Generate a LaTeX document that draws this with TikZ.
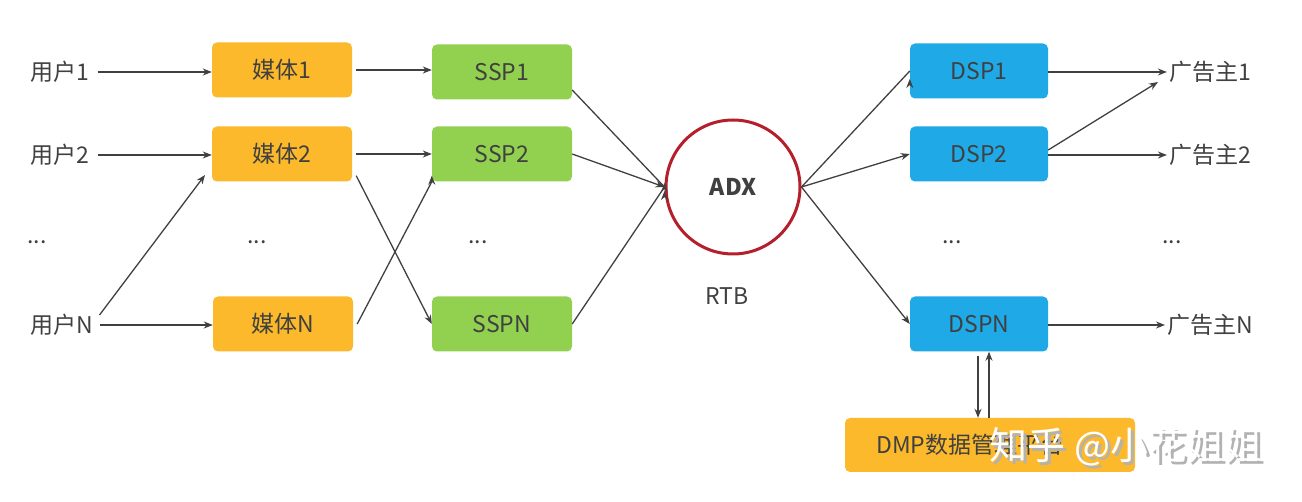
\documentclass[tikz,border=0pt]{standalone}
\usepackage{fontspec}
\setmainfont{Noto Sans CJK SC}
\usetikzlibrary{arrows.meta}
\definecolor{yel}{HTML}{FBB92B}
\definecolor{grn}{HTML}{92D050}
\definecolor{blu}{HTML}{1FA9E6}
\definecolor{txt}{HTML}{404040}
\definecolor{adxred}{HTML}{B41F2B}
\tikzset{
 box/.style={rounded corners=5pt,minimum width=140pt,minimum height=55pt,text=txt,font=\fontsize{23}{26}\selectfont,inner sep=0},
 lab/.style={text=txt,font=\fontsize{23}{26}\selectfont,inner sep=2pt},
 arr/.style={-{Stealth[length=9pt,width=7pt]},draw=txt,line width=1.3pt},
}
\begin{document}
\begin{tikzpicture}[x=1pt,y=-1pt]
\useasboundingbox (0,0) rectangle (1302,502);
\node[lab] (u1) at (60,72) {用户1};
\node[lab] (u2) at (60,155) {用户2};
\node[lab] at (37,242) {...};
\node[lab] (un) at (62,325) {用户N};
\node[box,fill=yel] (m1) at (282,70) {媒体1};
\node[box,fill=yel] (m2) at (282,154) {媒体2};
\node[lab] at (257,242) {...};
\node[box,fill=yel] (mn) at (283,324) {媒体N};
\node[box,fill=grn] (s1) at (502,72) {SSP1};
\node[box,fill=grn] (s2) at (502,154) {SSP2};
\node[lab] at (478,242) {...};
\node[box,fill=grn] (sn) at (502,324) {SSPN};
\node[circle,draw=adxred,line width=3pt,minimum size=134pt,text=txt,font=\fontsize{23}{26}\selectfont\bfseries] (adx) at (733,187) {ADX};
\node[lab] (rtb) at (727,296) {RTB};
\node[box,fill=blu,minimum width=138pt] (d1) at (979,71) {DSP1};
\node[box,fill=blu,minimum width=138pt] (d2) at (979,154) {DSP2};
\node[lab] at (952,242) {...};
\node[box,fill=blu,minimum width=138pt] (dn) at (979,324) {DSPN};
\node[lab] (a1) at (1210,72) {广告主1};
\node[lab] (a2) at (1210,155) {广告主2};
\node[lab] at (1172,242) {...};
\node[lab] (an) at (1210,325) {广告主N};
\node[box,fill=yel,minimum width=290pt,minimum height=54pt] (dmp) at (990,445) {\hspace*{-40pt}DMP数据管理平台};
% arrows
\draw[arr] (u1.east) ++(6,0) coordinate (t) -- (m1.west |- t);
\draw[arr] (u2.east) ++(6,0) coordinate (t) -- (m2.west |- t);
\draw[arr] (un.east) ++(4,0) coordinate (t) -- (mn.west |- t);
\draw[arr] (un.east) ++(4,-10) -- (205,175);
\draw[arr] (m1.east) ++(4,0) coordinate (t) -- (s1.west |- t);
\draw[arr] (m2.east) ++(4,0) coordinate (t) -- (s2.west |- t);
\draw[arr] (m2.south east) ++(4,-6) -- (sn.west);
\draw[arr] (mn.east) ++(4,0) -- (s2.south west) ++(0,-6);
\draw[arr] (s1.east) ++(0,18) -- (adx.west) ++(0,-4);
\draw[arr] (s2.east) -- (adx.west);
\draw[arr] (sn.east) -- (adx.west) ++(0,4);
\draw[arr] (adx.east) -- (d1.west) ++(0,8);
\draw[arr] (adx.east) -- (d2.west);
\draw[arr] (adx.east) -- (dn.west);
\draw[arr] (d1.east) ++(0,1) coordinate (t) -- (a1.west |- t);
\draw[arr] (d2.east) ++(0,-4) -- (1158,82);
\draw[arr] (d2.east) ++(0,1) coordinate (t) -- (a2.west |- t);
\draw[arr] (dn.east) ++(0,1) coordinate (t) -- (an.west |- t);
\draw[arr] (dn.south) ++(-1,4) coordinate (t) -- (dmp.north -| t);
\draw[arr] (dmp.north -| 989,0) -- ([xshift=10pt]dn.south);
\node[font=\fontsize{38}{42}\selectfont,text=gray!60,inner sep=0] (wmshadow) at (1129,450) {知乎 @小花姐姐};
\node[font=\fontsize{38}{42}\selectfont,text=white,inner sep=0] (wm) at (1126,447) {知乎 @小花姐姐};
\end{tikzpicture}
\end{document}
